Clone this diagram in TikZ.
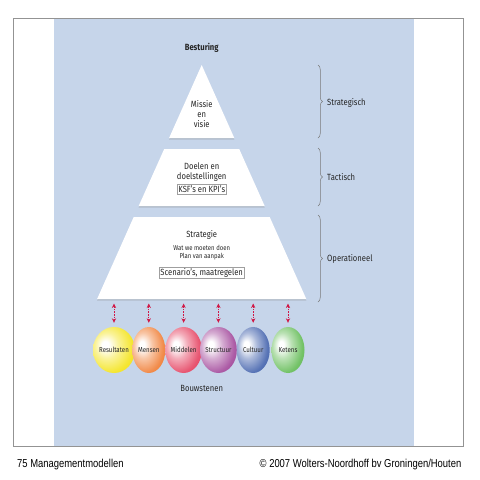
\documentclass[tikz,border=0pt]{standalone}
\usepackage{fontspec}
\setmainfont{Fira Sans}[FakeStretch=0.85]
\newfontfamily\footfont{Liberation Sans}[FakeStretch=0.82]
\usetikzlibrary{shapes.geometric,decorations.pathreplacing,arrows.meta,shadows}
\definecolor{bgblue}{HTML}{C6D5EA}
\definecolor{txt}{HTML}{262626}
\definecolor{brgray}{HTML}{7A7A7A}
\definecolor{arred}{HTML}{D01846}
\definecolor{cY}{HTML}{F2E000}
\definecolor{cO}{HTML}{EE7020}
\definecolor{cR}{HTML}{E22E50}
\definecolor{cP}{HTML}{983490}
\definecolor{cB}{HTML}{2F52A4}
\definecolor{cG}{HTML}{52B443}
\newcommand{\myball}[2]{%
  \pgfdeclareradialshading{#1}{\pgfpoint{-11bp}{6bp}}{%
    color(0bp)=(white); color(4bp)=(white); color(14bp)=(#2!40!white);
    color(28bp)=(#2!80!white); color(42bp)=(#2); color(70bp)=(#2!92!black)}}
\myball{ballY}{cY}
\myball{ballO}{cO}
\myball{ballR}{cR}
\myball{ballP}{cP}
\myball{ballB}{cB}
\myball{ballG}{cG}
\tikzset{
  piece/.style={fill=white, drop shadow={shadow xshift=0pt, shadow yshift=-1.5pt, opacity=0.3, fill=gray}},
  lbl/.style={inner sep=0pt, text=txt, font=\fontsize{9}{10}\selectfont, align=center},
  small/.style={inner sep=0pt, text=txt, font=\fontsize{7}{8.2}\selectfont, align=center},
  tagbox/.style={draw=gray!75, fill=white, inner xsep=1.5pt, inner ysep=1.5pt, text=txt,
    font=\fontsize{9}{10}\selectfont, drop shadow={shadow xshift=0.8pt, shadow yshift=-0.8pt, opacity=0.3}},
  brc/.style={draw=brgray, line width=0.5pt, decorate, decoration={brace, amplitude=4.5pt}},
  lvl/.style={inner sep=0pt, anchor=west, text=txt, font=\fontsize{9}{10}\selectfont},
  ball/.style={ellipse, minimum width=33pt, minimum height=46pt, inner sep=0pt, shade,
    text=txt, font=\fontsize{7.2}{8}\selectfont},
  rarr/.style={draw=arred, line width=0.9pt, dash pattern=on 1.6pt off 1pt,
    {Stealth[length=4.5pt,width=4.2pt]}-{Stealth[length=4.5pt,width=4.2pt]}},
  foot/.style={inner sep=0pt, font=\footfont\fontsize{11.5}{12}\selectfont, text=black}
}
\begin{document}
\begin{tikzpicture}[x=1pt,y=-1pt]
\useasboundingbox (0,0) rectangle (480,480);
\fill[white] (0,0) rectangle (480,480);
\fill[bgblue] (54,18) rectangle (414,446);
\draw[gray!85, line width=0.8pt] (13,18) rectangle (463,446);
% pyramid
\path[piece] (201.7,65) -- (234.3,138) -- (169.1,138) -- cycle;
\path[piece] (164.2,149) -- (239.2,149) -- (264.7,206) -- (138.7,206) -- cycle;
\path[piece] (133.7,217) -- (269.7,217) -- (306.3,299) -- (97.1,299) -- cycle;
% texts
\node[lbl, font=\bfseries\fontsize{9}{10}\selectfont] (best) at (201.7,48) {Besturing};
\node[lbl] (mv) at (201.7,114) {Missie\\en\\visie};
\node[lbl] (doel) at (201.7,172) {Doelen en\\doelstellingen};
\node[tagbox] (ksf) at (201.7,189.5) {KSF’s en KPI’s};
\node[lbl] (strat) at (201.7,235) {Strategie};
\node[small] (wat) at (201.7,253) {Wat we moeten doen\\Plan van aanpak};
\node[tagbox] (scen) at (201.7,272.7) {Scenario’s, maatregelen};
% braces
\draw[brc] (318,65) -- (318,138);
\draw[brc] (318,148) -- (318,206);
\draw[brc] (318,215) -- (318,302);
\node[lvl] (lstr) at (327,102.5) {Strategisch};
\node[lvl] (ltac) at (327,177.5) {Tactisch};
\node[lvl] (lope) at (327,259) {Operationeel};
% balls
\node[ball, shading=ballY] (b1) at (114,350) {Resultaten};
\node[ball, shading=ballO] (b2) at (148.8,350) {Mensen};
\node[ball, shading=ballR] (b3) at (183.6,350) {Middelen};
\node[ball, shading=ballP] (b4) at (218.4,350) {Structuur};
\node[ball, shading=ballB] (b5) at (253.2,350) {Cultuur};
\node[ball, shading=ballG] (b6) at (288,350) {Ketens};
\foreach \i/\x in {1/114,2/148.8,3/183.6,4/218.4,5/253.2,6/288}{
  \coordinate (t\i) at (\x,303.5);
  \draw[rarr, shorten >=4pt] (t\i) -- (b\i.north);
}
\node[lbl] (bouw) at (201.7,388) {Bouwstenen};
% footer
\node[foot, anchor=base west] (f1) at (17,467) {75 Managementmodellen};
\node[foot, anchor=base east] (f2) at (461.5,467) {© 2007 Wolters-Noordhoff bv Groningen/Houten};
\end{tikzpicture}
\end{document}
